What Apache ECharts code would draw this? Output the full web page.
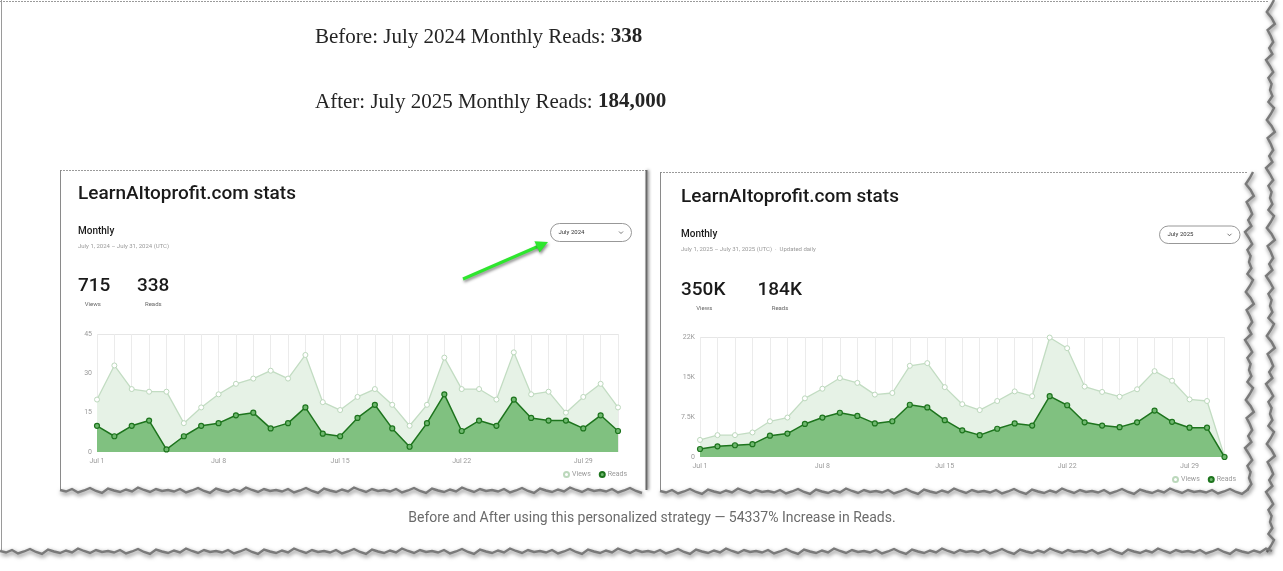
<!DOCTYPE html>
<html><head><meta charset="utf-8">
<script src="https://cdn.jsdelivr.net/npm/echarts@6/dist/echarts.min.js"></script>
<style>html,body{margin:0;padding:0;background:#fff;}#c{width:1283px;height:571px;}</style>
</head><body><div id="c"></div>
<script>
const days = ['Jul 1','Jul 2','Jul 3','Jul 4','Jul 5','Jul 6','Jul 7','Jul 8','Jul 9','Jul 10','Jul 11','Jul 12','Jul 13','Jul 14','Jul 15','Jul 16','Jul 17','Jul 18','Jul 19','Jul 20','Jul 21','Jul 22','Jul 23','Jul 24','Jul 25','Jul 26','Jul 27','Jul 28','Jul 29','Jul 30','Jul 31'];
const views2024 = [20,33,24,23,23,11,17,22,26,28,31,28,37,19,16,21,24,18,10,18,36,24,24,20,38,22,23,15,21,26,17];
const reads2024 = [10,6,10,12,1,6,10,11,14,15,9,11,17,7,6,13,18,9,2,11,22,8,12,10,20,13,12,12,9,14,8];
const views2025 = [3200,4100,4100,4600,6700,7400,11000,12800,14800,13900,11700,12000,17100,17600,13100,9900,8800,10500,12300,11400,22400,20400,13200,12200,11300,12700,16100,14300,10800,10500,100];
const reads2025 = [1500,2000,2200,2400,4000,4400,6200,7400,8300,7700,6300,6700,9800,9300,6900,5000,4100,5300,6300,5900,11400,9700,6500,5900,5600,6500,8700,6600,5500,5500,0];
const yTicks2024 = ['0','15','30','45'];
const yTicks2025 = ['0','7.5K','15K','22K'];
const seriesNames = ['Views','Reads'];

const chart = echarts.init(document.getElementById('c'), null, {renderer:'canvas'});
const SANS = 'Roboto, "Liberation Sans", sans-serif';
const axisLbl = {fontSize:7, color:'#9a9a9a', fontFamily:SANS};

function xAxis(gi, margin){
  return {type:'category', gridIndex:gi, data:days, boundaryGap:false,
    axisLine:{show:false}, axisTick:{show:false},
    axisLabel:Object.assign({interval:(i)=>i%7===0, margin:margin}, axisLbl),
    splitLine:{show:true, interval:0, lineStyle:{color:'#ebebeb', width:1}}};
}
function yAxis(gi, max, step, ticks, margin){
  return {type:'value', gridIndex:gi, min:0, max:max, interval:step,
    axisLine:{show:false}, axisTick:{show:false},
    axisLabel:Object.assign({margin:margin, formatter:(v)=>ticks[Math.round(v/step)]}, axisLbl),
    splitLine:{show:true, lineStyle:{color:['rgba(0,0,0,0)','rgba(0,0,0,0)','rgba(0,0,0,0)','#e6e6e6'], width:1}}};
}
function viewsSeries(gi, data){
  return {name:seriesNames[0], type:'line', xAxisIndex:gi, yAxisIndex:gi, data:data,
    symbol:'circle', symbolSize:5, showSymbol:true, z:2,
    itemStyle:{color:'#ffffff', borderColor:'#bcd8bc', borderWidth:1},
    lineStyle:{color:'#c2dcc2', width:1.3},
    areaStyle:{color:'#e6f2e6', opacity:1}};
}
function readsSeries(gi, data){
  return {name:seriesNames[1], type:'line', xAxisIndex:gi, yAxisIndex:gi, data:data,
    symbol:'circle', symbolSize:5, showSymbol:true, z:3,
    itemStyle:{color:'#6fb86f', borderColor:'#1d741d', borderWidth:1.2},
    lineStyle:{color:'#1d741d', width:1.5},
    areaStyle:{color:'#80c180', opacity:1}};
}

const jag = [0,1.5,-1,2.5,0.5,-2,1,3,-1.5,0.5,2,-0.5,1.5,-2.5,0,2,-1,1];
function tornH(x0,x1,y){const p=[];let i=0;for(let x=x0;x<=x1;x+=6){p.push([x,y+jag[i++%jag.length]]);}return p;}
function tornV(x,y0,y1){const p=[];let i=3;for(let y=y0;y<=y1;y+=6){p.push([x+jag[i++%jag.length]*1.6,y]);}return p;}
const tornStyle = {stroke:'#7a7a7a', lineWidth:2.4, fill:null, shadowBlur:4, shadowColor:'rgba(0,0,0,0.55)', shadowOffsetX:1, shadowOffsetY:2};

function txt(x,y,text,size,color,weight,family,align){
  return {type:'text', x:x, y:y, z:50, style:{text:text, fontSize:size, fill:color, fontWeight:weight||'normal',
    fontFamily:family||SANS, textAlign:align||'left', align:align||'left', textVerticalAlign:'middle', verticalAlign:'middle'}};
}
function pill(x,y,w,h,label){
  return [
    {type:'rect', z:50, shape:{x:x,y:y,width:w,height:h,r:h/2}, style:{fill:'#fff', stroke:'#8c8c8c', lineWidth:0.9}},
    txt(x+8, y+h/2, label, 6, '#333', 'normal'),
    {type:'polyline', z:51, shape:{points:[[x+w-12.5,y+h/2-1],[x+w-10.5,y+h/2+1],[x+w-8.5,y+h/2-1]]}, style:{stroke:'#555', lineWidth:0.8, fill:null}}
  ];
}

const graphics = [
  // page frame
  {type:'line', z:40, shape:{x1:0,y1:1.5,x2:1268,y2:1.5}, style:{stroke:'#9a9a9a', lineWidth:1, lineDash:[2,1]}},
  {type:'line', z:40, shape:{x1:1.5,y1:0,x2:1.5,y2:550}, style:{stroke:'#9a9a9a', lineWidth:1}},
  {type:'polyline', z:40, shape:{points:tornV(1270,0,552)}, style:tornStyle},
  {type:'polyline', z:40, shape:{points:tornH(0,1272,551)}, style:tornStyle},
  // left card frame
  {type:'line', z:40, shape:{x1:60,y1:170.5,x2:647,y2:170.5}, style:{stroke:'#9a9a9a', lineWidth:1, lineDash:[2,1]}},
  {type:'line', z:40, shape:{x1:60.5,y1:170,x2:60.5,y2:490}, style:{stroke:'#8a8a8a', lineWidth:1}},
  {type:'line', z:40, shape:{x1:646.5,y1:170,x2:646.5,y2:490}, style:{stroke:'#6a6a6a', lineWidth:2, shadowBlur:3, shadowColor:'rgba(0,0,0,0.5)', shadowOffsetX:1.5}},
  {type:'polyline', z:40, shape:{points:tornH(60,647,490)}, style:tornStyle},
  // right card frame
  {type:'line', z:40, shape:{x1:660,y1:172.5,x2:1248,y2:172.5}, style:{stroke:'#9a9a9a', lineWidth:1, lineDash:[2,1]}},
  {type:'line', z:40, shape:{x1:660.5,y1:172,x2:660.5,y2:492}, style:{stroke:'#8a8a8a', lineWidth:1}},
  {type:'polyline', z:40, shape:{points:tornV(1249,172,492)}, style:tornStyle},
  {type:'polyline', z:40, shape:{points:tornH(660,1250,491)}, style:tornStyle},
  // headline text
  {type:'text', x:315, y:37, z:50, style:{text:'Before: July 2024 Monthly Reads: {b|338}', fontSize:21, fontFamily:'"Liberation Serif", serif', fill:'#242424', textVerticalAlign:'middle', verticalAlign:'middle', rich:{b:{fontSize:21, fontFamily:'"Liberation Serif", serif', fontWeight:'bold', fill:'#242424'}}}},
  {type:'text', x:315, y:102, z:50, style:{text:'After: July 2025 Monthly Reads: {b|184,000}', fontSize:21, fontFamily:'"Liberation Serif", serif', fill:'#242424', textVerticalAlign:'middle', verticalAlign:'middle', rich:{b:{fontSize:21, fontFamily:'"Liberation Serif", serif', fontWeight:'bold', fill:'#242424'}}}},
  // caption
  txt(652, 518, 'Before and After using this personalized strategy — 54337% Increase in Reads.', 14, '#6b6b6b', 'normal', SANS, 'center'),
  // left card texts
  txt(78, 194, 'LearnAItoprofit.com stats', 19, '#1a1a1a', 500),
  txt(78, 231, 'Monthly', 10, '#1a1a1a', 500),
  txt(78, 246, 'July 1, 2024 – July 31, 2024 (UTC)', 6, '#9a9a9a'),
  txt(78, 286, '715', 19, '#1a1a1a', 500),
  txt(137, 286, '338', 19, '#1a1a1a', 500),
  txt(92.7, 304.5, 'Views', 6, '#666', 'normal', SANS, 'center'),
  txt(153.3, 304.5, 'Reads', 6, '#666', 'normal', SANS, 'center'),
  // right card texts
  txt(681, 197, 'LearnAItoprofit.com stats', 19, '#1a1a1a', 500),
  txt(681, 234, 'Monthly', 10, '#1a1a1a', 500),
  txt(681, 249, 'July 1, 2025 – July 31, 2025 (UTC)  ·  Updated daily', 6, '#9a9a9a'),
  txt(681, 290, '350K', 19, '#1a1a1a', 500),
  txt(757.5, 290, '184K', 19, '#1a1a1a', 500),
  txt(704.3, 308, 'Views', 6, '#666', 'normal', SANS, 'center'),
  txt(780, 308, 'Reads', 6, '#666', 'normal', SANS, 'center'),
  // arrow
  {type:'line', z:52, shape:{x1:463,y1:279,x2:539,y2:246}, style:{stroke:'#2ee62e', lineWidth:3, shadowBlur:3, shadowColor:'rgba(0,0,0,0.45)', shadowOffsetX:1, shadowOffsetY:2}},
  {type:'polygon', z:52, shape:{points:[[548,242],[539.6,252.5],[534.4,241.2]]}, style:{fill:'#2ee62e', shadowBlur:3, shadowColor:'rgba(0,0,0,0.45)', shadowOffsetX:1, shadowOffsetY:2}}
].concat(pill(550.5,223.5,81,18,'July 2024')).concat(pill(1159.5,226,80.5,17.5,'July 2025'));

const legendBase = {data:seriesNames, icon:'circle', itemWidth:5, itemHeight:5, itemGap:8, padding:0,
  textStyle:{fontSize:7, color:'#9a9a9a', fontFamily:SANS, padding:[0,0,0,-2]}, selectedMode:false};

chart.setOption({
  animation:false,
  backgroundColor:'#ffffff',
  grid:[{left:97, top:334, width:521, height:118}, {left:700, top:337, width:524.5, height:120}],
  xAxis:[xAxis(0,6), xAxis(1,6)],
  yAxis:[yAxis(0,45,15,yTicks2024,5), yAxis(1,22500,7500,yTicks2025,5)],
  legend:[Object.assign({left:563, top:471}, legendBase), Object.assign({left:1172, top:476}, legendBase)],
  series:[viewsSeries(0,views2024), readsSeries(0,reads2024), viewsSeries(1,views2025), readsSeries(1,reads2025)],
  graphic:{elements:graphics}
});
</script></body></html>
